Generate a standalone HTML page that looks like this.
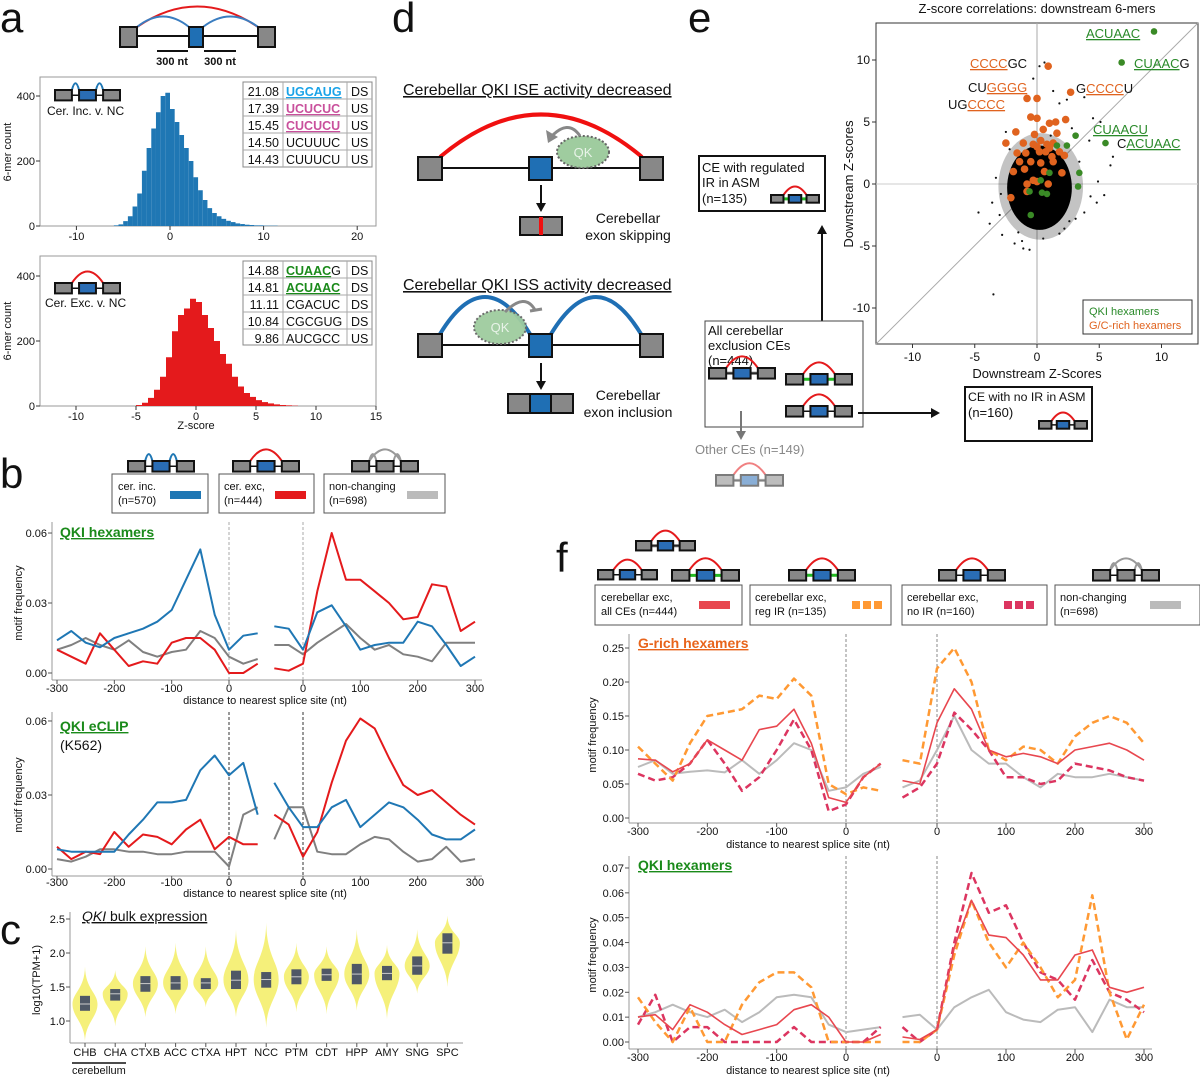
<!DOCTYPE html>
<html><head><meta charset="utf-8">
<style>
html,body{margin:0;padding:0;background:#fff;}
svg{display:block;font-family:"Liberation Sans",Arial,sans-serif;}
text{fill:#111;}
</style></head>
<body>
<svg id="fig" width="1200" height="1078" viewBox="0 0 1200 1078" xmlns="http://www.w3.org/2000/svg">
<text x="0" y="32" font-size="42">a</text>
<text x="0" y="488" font-size="42">b</text>
<text x="0" y="944" font-size="42">c</text>
<text x="392" y="32" font-size="42">d</text>
<text x="688" y="32" font-size="42">e</text>
<text x="556" y="572" font-size="42">f</text>

<g>
<path d="M137,27 Q197,-14 258,27" fill="none" stroke="#e41a1c" stroke-width="2"/>
<path d="M137,27 Q163,6 189,27" fill="none" stroke="#3a7dc0" stroke-width="2"/>
<path d="M203,27 Q230,6 258,27" fill="none" stroke="#3a7dc0" stroke-width="2"/>
<line x1="137" y1="36" x2="258" y2="36" stroke="#111" stroke-width="2"/>
<rect x="120" y="27" width="17" height="20" fill="#888" stroke="#111" stroke-width="2"/>
<rect x="189" y="27" width="14" height="20" fill="#1f6fb4" stroke="#111" stroke-width="2"/>
<rect x="258" y="27" width="17" height="20" fill="#888" stroke="#111" stroke-width="2"/>
<line x1="157" y1="51" x2="188" y2="51" stroke="#111" stroke-width="2"/>
<line x1="204" y1="51" x2="236" y2="51" stroke="#111" stroke-width="2"/>
<text x="172" y="65" font-size="11" font-weight="bold" text-anchor="middle">300 nt</text>
<text x="220" y="65" font-size="11" font-weight="bold" text-anchor="middle">300 nt</text>
</g>

<g font-size="12.5">
<rect x="243" y="82" width="129" height="85" fill="#fff" stroke="#888"/>
<line x1="243" y1="99" x2="372" y2="99" stroke="#aaa"/><line x1="243" y1="116" x2="372" y2="116" stroke="#aaa"/><line x1="243" y1="133" x2="372" y2="133" stroke="#aaa"/><line x1="243" y1="150" x2="372" y2="150" stroke="#aaa"/>
<line x1="283" y1="82" x2="283" y2="167" stroke="#aaa"/><line x1="347" y1="82" x2="347" y2="167" stroke="#aaa"/>
<text x="279" y="96" text-anchor="end">21.08</text><text x="286" y="96" font-weight="bold" text-decoration="underline" style="fill:#1aa3e8">UGCAUG</text><text x="351" y="96">DS</text>
<text x="279" y="113" text-anchor="end">17.39</text><text x="286" y="113" font-weight="bold" text-decoration="underline" style="fill:#c9509c">UCUCUC</text><text x="351" y="113">US</text>
<text x="279" y="130" text-anchor="end">15.45</text><text x="286" y="130" font-weight="bold" text-decoration="underline" style="fill:#c9509c">CUCUCU</text><text x="351" y="130">US</text>
<text x="279" y="147" text-anchor="end">14.50</text><text x="286" y="147">UCUUUC</text><text x="351" y="147">US</text>
<text x="279" y="164" text-anchor="end">14.43</text><text x="286" y="164">CUUUCU</text><text x="351" y="164">US</text>
</g>
<g font-size="12.5">
<rect x="243" y="261" width="129" height="84" fill="#fff" stroke="#888"/>
<line x1="243" y1="278" x2="372" y2="278" stroke="#aaa"/><line x1="243" y1="295" x2="372" y2="295" stroke="#aaa"/><line x1="243" y1="312" x2="372" y2="312" stroke="#aaa"/><line x1="243" y1="329" x2="372" y2="329" stroke="#aaa"/>
<line x1="283" y1="261" x2="283" y2="345" stroke="#aaa"/><line x1="347" y1="261" x2="347" y2="345" stroke="#aaa"/>
<text x="279" y="275" text-anchor="end">14.88</text><text x="286" y="275"><tspan font-weight="bold" text-decoration="underline" style="fill:#1a8a1a">CUAAC</tspan>G</text><text x="351" y="275">DS</text>
<text x="279" y="292" text-anchor="end">14.81</text><text x="286" y="292" font-weight="bold" text-decoration="underline" style="fill:#1a8a1a">ACUAAC</text><text x="351" y="292">DS</text>
<text x="279" y="309" text-anchor="end">11.11</text><text x="286" y="309">CGACUC</text><text x="351" y="309">DS</text>
<text x="279" y="326" text-anchor="end">10.84</text><text x="286" y="326">CGCGUG</text><text x="351" y="326">DS</text>
<text x="279" y="343" text-anchor="end">9.86</text><text x="286" y="343">AUCGCC</text><text x="351" y="343">US</text>
</g>
<text x="47" y="115" font-size="12">Cer. Inc. v. NC</text>
<text x="45" y="307" font-size="12">Cer. Exc. v. NC</text>
<text x="196" y="429" font-size="11" text-anchor="middle">Z-score</text>
<text transform="translate(11,152) rotate(-90)" font-size="11" text-anchor="middle">6-mer count</text>
<text transform="translate(11,331) rotate(-90)" font-size="11" text-anchor="middle">6-mer count</text>

<g font-size="11">
<rect x="112" y="474" width="96" height="39" fill="#fff" stroke="#555"/>
<text x="118" y="490">cer. inc.</text><text x="118" y="504">(n=570)</text>
<rect x="170" y="491" width="31" height="8" fill="#1f77b4"/>
<rect x="219" y="474" width="95" height="39" fill="#fff" stroke="#555"/>
<text x="224" y="490">cer. exc,</text><text x="224" y="504">(n=444)</text>
<rect x="275" y="491" width="31" height="8" fill="#e41a1c"/>
<rect x="324" y="474" width="121" height="39" fill="#fff" stroke="#555"/>
<text x="329" y="490">non-changing</text><text x="329" y="504">(n=698)</text>
<rect x="407" y="491" width="31" height="8" fill="#bbb"/>
</g>
<text x="60" y="537" font-size="14" font-weight="bold" text-decoration="underline" style="fill:#1a8a1a">QKI hexamers</text>
<text x="60" y="731" font-size="14" font-weight="bold" text-decoration="underline" style="fill:#1a8a1a">QKI eCLIP</text>
<text x="60" y="750" font-size="14">(K562)</text>
<text x="265" y="704" font-size="11" text-anchor="middle">distance to nearest splice site (nt)</text>
<text x="265" y="897" font-size="11" text-anchor="middle">distance to nearest splice site (nt)</text>
<text transform="translate(22,603) rotate(-90)" font-size="11" text-anchor="middle">motif frequency</text>
<text transform="translate(22,795) rotate(-90)" font-size="11" text-anchor="middle">motif frequency</text>

<text x="82" y="921" font-size="14" text-decoration="underline"><tspan font-style="italic">QKI</tspan> bulk expression</text>
<text transform="translate(40,980) rotate(-90)" font-size="11" text-anchor="middle">log10(TPM+1)</text>
<line x1="72" y1="1063" x2="126" y2="1063" stroke="#111" stroke-width="1.5"/>
<text x="72" y="1074" font-size="11">cerebellum</text>

<g>
<text x="403" y="95" font-size="16" text-decoration="underline">Cerebellar QKI ISE activity decreased</text>
<path d="M440,157 Q541,72 642,157" fill="none" stroke="#f01010" stroke-width="4"/>
<line x1="442" y1="168" x2="640" y2="168" stroke="#111" stroke-width="2"/>
<rect x="418" y="157" width="24" height="23" fill="#888" stroke="#111" stroke-width="2"/>
<rect x="529" y="157" width="23" height="23" fill="#1f6fb4" stroke="#111" stroke-width="2"/>
<rect x="640" y="157" width="23" height="23" fill="#888" stroke="#111" stroke-width="2"/>
<ellipse cx="583" cy="152" rx="26" ry="16" fill="#9fcc9f" stroke="#666" stroke-width="2" stroke-dasharray="2,2"/>
<text x="583" y="157" font-size="13" text-anchor="middle" style="fill:#e8f3e8">QK</text>
<path d="M580,136 Q568,118 550,138" fill="none" stroke="#888" stroke-width="3"/>
<path d="M546,130 L548,143 L558,137 Z" fill="#888"/>
<line x1="541" y1="185" x2="541" y2="205" stroke="#111" stroke-width="2"/><path d="M536,203 L541,212 L546,203 Z" fill="#111"/>
<rect x="520" y="217" width="42" height="18" fill="#888" stroke="#111" stroke-width="2"/>
<rect x="539" y="217" width="4" height="18" fill="#f01010"/>
<text x="628" y="223" font-size="14" text-anchor="middle">Cerebellar</text>
<text x="628" y="240" font-size="14" text-anchor="middle">exon skipping</text>
</g>
<g>
<text x="403" y="290" font-size="16" text-decoration="underline">Cerebellar QKI ISS activity decreased</text>
<path d="M440,334 Q485,260 530,334" fill="none" stroke="#1f6fb4" stroke-width="4"/>
<path d="M551,334 Q596,260 641,334" fill="none" stroke="#1f6fb4" stroke-width="4"/>
<line x1="442" y1="345" x2="640" y2="345" stroke="#111" stroke-width="2"/>
<ellipse cx="500" cy="327" rx="26" ry="17" fill="#9fcc9f" stroke="#666" stroke-width="2" stroke-dasharray="2,2" opacity="0.95"/>
<text x="500" y="332" font-size="13" text-anchor="middle" style="fill:#e8f3e8">QK</text>
<rect x="418" y="334" width="24" height="23" fill="#888" stroke="#111" stroke-width="2"/>
<rect x="529" y="334" width="23" height="23" fill="#1f6fb4" stroke="#111" stroke-width="2"/>
<rect x="640" y="334" width="23" height="23" fill="#888" stroke="#111" stroke-width="2"/>
<path d="M505,312 Q525,292 535,310" fill="none" stroke="#888" stroke-width="3"/>
<line x1="530" y1="311" x2="542" y2="309" stroke="#888" stroke-width="3"/>
<line x1="541" y1="363" x2="541" y2="383" stroke="#111" stroke-width="2"/><path d="M536,381 L541,390 L546,381 Z" fill="#111"/>
<rect x="508" y="394" width="65" height="19" fill="#888" stroke="#111" stroke-width="2"/>
<rect x="530" y="394" width="21" height="19" fill="#1f6fb4" stroke="#111" stroke-width="2"/>
<text x="628" y="400" font-size="14" text-anchor="middle">Cerebellar</text>
<text x="628" y="417" font-size="14" text-anchor="middle">exon inclusion</text>
</g>

<g font-size="13">
<rect x="699" y="156" width="126" height="55" fill="#fff" stroke="#111" stroke-width="2"/>
<text x="702" y="172">CE with regulated</text><text x="702" y="187">IR in ASM</text><text x="702" y="203">(n=135)</text>
<line x1="822" y1="350" x2="822" y2="233" stroke="#111" stroke-width="2"/><path d="M817,234 L822,225 L827,234 Z" fill="#111"/>
<rect x="705" y="321" width="158" height="106" fill="#fff" stroke="#444"/>
<text x="708" y="335">All cerebellar</text><text x="708" y="350">exclusion CEs</text><text x="708" y="365">(n=444)</text>
<line x1="858" y1="413" x2="932" y2="413" stroke="#111" stroke-width="2"/><path d="M931,408 L940,413 L931,418 Z" fill="#111"/>
<rect x="965" y="387" width="127" height="54" fill="#fff" stroke="#111" stroke-width="2"/>
<text x="968" y="401" font-size="12.3">CE with no IR in ASM</text><text x="968" y="417">(n=160)</text>
<line x1="741" y1="411" x2="741" y2="432" stroke="#777" stroke-width="2"/><path d="M736,431 L741,440 L746,431 Z" fill="#777"/>
<text x="695" y="454" style="fill:#888">Other CEs (n=149)</text>
</g>
<text x="1037" y="13" font-size="13" text-anchor="middle">Z-score correlations: downstream 6-mers</text>
<text transform="translate(853,184) rotate(-90)" font-size="13" text-anchor="middle">Downstream Z-scores</text>
<text x="1037" y="378" font-size="13" text-anchor="middle">Downstream Z-Scores</text>

<g font-size="11">
<rect x="595" y="585" width="147" height="40" fill="#fff" stroke="#555"/>
<text x="601" y="601">cerebellar exc,</text><text x="601" y="615">all CEs (n=444)</text>
<rect x="699" y="601" width="31" height="8" fill="#e8474f"/>
<rect x="750" y="585" width="141" height="40" fill="#fff" stroke="#555"/>
<text x="755" y="601">cerebellar exc,</text><text x="755" y="615">reg IR (n=135)</text>
<rect x="852" y="601" width="8" height="8" fill="#ff9933"/><rect x="863" y="601" width="8" height="8" fill="#ff9933"/><rect x="874" y="601" width="8" height="8" fill="#ff9933"/>
<rect x="902" y="585" width="145" height="40" fill="#fff" stroke="#555"/>
<text x="907" y="601">cerebellar exc,</text><text x="907" y="615">no IR (n=160)</text>
<rect x="1004" y="601" width="8" height="8" fill="#dc3560"/><rect x="1015" y="601" width="8" height="8" fill="#dc3560"/><rect x="1026" y="601" width="8" height="8" fill="#dc3560"/>
<rect x="1055" y="585" width="145" height="40" fill="#fff" stroke="#555"/>
<text x="1060" y="601">non-changing</text><text x="1060" y="615">(n=698)</text>
<rect x="1150" y="601" width="31" height="8" fill="#bbb"/>
</g>
<text x="638" y="648" font-size="14" font-weight="bold" text-decoration="underline" style="fill:#e8641b">G-rich hexamers</text>
<text x="638" y="870" font-size="14" font-weight="bold" text-decoration="underline" style="fill:#1a8a1a">QKI hexamers</text>
<text x="808" y="848" font-size="11" text-anchor="middle">distance to nearest splice site (nt)</text>
<text x="808" y="1074" font-size="11" text-anchor="middle">distance to nearest splice site (nt)</text>
<text transform="translate(596,735) rotate(-90)" font-size="11" text-anchor="middle">motif frequency</text>
<text transform="translate(596,955) rotate(-90)" font-size="11" text-anchor="middle">motif frequency</text>

<g id="dyn"></g>
</svg>
<script>
const hist1Start = -6, hist1Width = 0.5;
const hist1Counts = [2,5,15,30,60,100,170,240,300,350,400,410,360,320,280,240,200,150,110,80,55,40,30,22,16,12,8,6,4,3,2,2,1,1,1,0];
const hist2Start = -5, hist2Width = 0.5;
const hist2Counts = [3,10,25,50,90,150,230,280,300,330,320,280,240,200,160,130,90,60,40,28,18,12,8,5,3,2,1];

const posLeft = [-300,-275,-250,-225,-200,-175,-150,-125,-100,-75,-50,-25,0,25,50];
const posRight = [-50,-25,0,25,50,75,100,125,150,175,200,225,250,275,300];

const b1BlueL = [0.014,0.018,0.013,0.011,0.015,0.017,0.019,0.022,0.027,0.040,0.053,0.025,0.010,0.016,0.017];
const b1RedL  = [0.010,0.007,0.004,0.017,0.010,0.003,0.005,0.004,0.013,0.015,0.015,0.010,0.000,0.000,0.004];
const b1GrayL = [0.010,0.012,0.015,0.012,0.010,0.014,0.009,0.007,0.009,0.010,0.018,0.015,0.007,0.004,0.006];
const b1BlueR = [0.020,0.019,0.010,0.026,0.029,0.020,0.010,0.012,0.013,0.013,0.022,0.020,0.012,0.003,0.007];
const b1RedR  = [0.002,0.001,0.004,0.035,0.060,0.040,0.040,0.035,0.030,0.023,0.024,0.038,0.037,0.018,0.022];
const b1GrayR = [0.012,0.012,0.008,0.013,0.017,0.021,0.015,0.010,0.012,0.008,0.007,0.005,0.013,0.013,0.013];

const b2BlueL = [0.008,0.007,0.007,0.007,0.007,0.014,0.020,0.027,0.027,0.028,0.040,0.046,0.038,0.043,0.022];
const b2RedL  = [0.009,0.004,0.007,0.006,0.015,0.009,0.014,0.013,0.010,0.016,0.020,0.008,0.013,0.010,0.010];
const b2GrayL = [0.004,0.003,0.005,0.008,0.008,0.007,0.007,0.006,0.006,0.007,0.007,0.007,0.001,0.022,0.025];
const b2BlueR = [0.035,0.025,0.017,0.017,0.025,0.028,0.017,0.022,0.027,0.025,0.020,0.014,0.012,0.012,0.016];
const b2RedR  = [0.022,0.018,0.005,0.015,0.035,0.052,0.061,0.057,0.045,0.034,0.030,0.032,0.027,0.022,0.018];
const b2GrayR = [0.012,0.025,0.025,0.007,0.006,0.006,0.010,0.013,0.012,0.007,0.003,0.004,0.009,0.003,0.004];

const f1RedL    = [0.087,0.085,0.068,0.080,0.115,0.100,0.085,0.130,0.135,0.160,0.110,0.030,0.023,0.060,0.080];
const f1OrangeL = [0.105,0.080,0.055,0.110,0.150,0.155,0.160,0.180,0.175,0.205,0.180,0.050,0.035,0.045,0.040];
const f1CrimsonL= [0.065,0.055,0.060,0.080,0.115,0.080,0.040,0.060,0.100,0.145,0.100,0.010,0.020,0.060,0.080];
const f1GrayL   = [0.075,0.085,0.065,0.068,0.070,0.067,0.085,0.065,0.085,0.110,0.100,0.040,0.045,0.065,0.075];
const f1RedR    = [0.055,0.050,0.140,0.190,0.160,0.100,0.090,0.095,0.090,0.080,0.100,0.105,0.110,0.100,0.085];
const f1OrangeR = [0.085,0.080,0.220,0.250,0.200,0.100,0.085,0.105,0.100,0.080,0.120,0.140,0.150,0.140,0.110];
const f1CrimsonR= [0.030,0.045,0.080,0.155,0.130,0.100,0.060,0.060,0.050,0.055,0.080,0.075,0.070,0.060,0.055];
const f1GrayR   = [0.045,0.055,0.100,0.150,0.100,0.080,0.080,0.060,0.045,0.065,0.060,0.060,0.065,0.060,0.055];

const f2RedL    = [0.010,0.011,0.005,0.015,0.012,0.007,0.003,0.005,0.007,0.013,0.015,0.010,0.000,0.000,0.003];
const f2OrangeL = [0.018,0.008,0.000,0.014,0.000,0.000,0.015,0.024,0.028,0.028,0.022,0.000,0.000,0.000,0.000];
const f2CrimsonL= [0.007,0.019,0.000,0.006,0.006,0.000,0.000,0.000,0.000,0.006,0.000,0.000,0.000,0.000,0.006];
const f2GrayL   = [0.010,0.012,0.015,0.012,0.010,0.013,0.008,0.012,0.018,0.019,0.018,0.007,0.004,0.005,0.006];
const f2RedR    = [0.002,0.001,0.005,0.038,0.057,0.043,0.042,0.035,0.025,0.025,0.035,0.037,0.022,0.020,0.022];
const f2OrangeR = [0.000,0.000,0.005,0.035,0.057,0.040,0.030,0.040,0.030,0.018,0.025,0.059,0.020,0.001,0.015];
const f2CrimsonR= [0.006,0.000,0.005,0.040,0.068,0.052,0.055,0.040,0.028,0.025,0.017,0.033,0.020,0.017,0.012];
const f2GrayR   = [0.010,0.011,0.005,0.014,0.018,0.021,0.012,0.009,0.008,0.013,0.014,0.004,0.017,0.014,0.014];

const vCats = ["CHB","CHA","CTXB","ACC","CTXA","HPT","NCC","PTM","CDT","HPP","AMY","SNG","SPC"];
const vMin  = [0.70,0.92,1.05,1.10,1.20,1.05,0.90,1.13,1.10,1.15,1.02,1.40,1.50];
const vMax  = [1.80,1.75,2.10,2.15,2.10,2.35,2.45,2.15,2.10,2.35,2.12,2.35,2.55];
const vQ1   = [1.15,1.30,1.43,1.46,1.47,1.47,1.49,1.54,1.59,1.54,1.60,1.68,1.99];
const vQ3   = [1.37,1.47,1.66,1.66,1.63,1.74,1.72,1.76,1.77,1.84,1.81,1.95,2.29];
const vMed  = [1.25,1.40,1.55,1.56,1.56,1.60,1.61,1.65,1.68,1.69,1.70,1.81,2.15];
const vTicks = [1.0,1.5,2.0,2.5];

const scX_orange = [0.9,2.7,-0.8,0,-0.5,0,1,1.5,2.3,-1.7,1.6,-2.5,-1.1,-0.3,0.3,0.8,1.3,-1.6,-0.9,0.2,0.7,1.2,2.2,-1.4,-0.5,0.3,1.3,-1.9,-1.0,0.6,-0.8,0,0.9,-2.1,-0.8,-0.3,1.8,0.5,-0.2,1.0,2.0,0];
const scY_orange = [9.5,7.4,6.9,6.9,5.4,5.3,4.9,5,5.2,4.2,4.1,3.3,3.3,3.2,3.5,3.2,3.3,2.5,2.5,2.6,2.6,2.2,2.3,1.8,1.8,1.7,1.8,1.0,1.2,1.0,0,0.2,0,-1.1,-0.6,0.3,2.6,4.4,4.0,2.9,0.9,3.0];
const scX_green = [9.4,6.8,3.1,5.5,3.4,3.3,0.4,0.8,-0.5,-0.6,2.4,1.6,1.0,0.3];
const scY_green = [12.3,9.8,3.9,3.3,0.9,-0.2,-0.7,-0.8,-2.5,-0.6,3.1,3.1,0.9,0.3];
const scX_black = [-3.5,0.6,0.2,-0.3,1.8,1.3,2.4,3.8,4.5,5.1,6.1,5.9,4.9,5.4,4.8,-4.7,-3.8,-2.8,-1.8,-1.1,-0.6,1.8,2.6,-3,3.8,-2.5,4.2,2.8,-3.3,-3.6,4.3,3.1,-1.5,0.5,-2.2,2.2,-1.2,1.1,3.4,-2.9];
const scY_black = [-8.9,9.8,9.5,8.5,6.5,7.5,6.8,7.0,5.3,5,2.2,1.5,0.2,-0.9,-1.5,-2.3,-3.2,-4.1,-4.8,-5.2,-5.3,-4,-3,-2.5,-2.3,4.2,3.5,4.5,0.5,-1.5,-1,-2.8,-3.9,-4.4,2.8,-3.6,-4.6,3.9,1.8,-0.8];
const scTicks = [-10,-5,0,5,10];

const NS = "http://www.w3.org/2000/svg";
const root = document.getElementById('dyn');
function mk(tag, attrs, parent){
  const e = document.createElementNS(NS, tag);
  for (const k in attrs) e.setAttribute(k, attrs[k]);
  (parent||root).appendChild(e);
  return e;
}
function txt(x,y,s,size,anchor,parent){
  const t = mk('text',{x:x,y:y,'font-size':size,'text-anchor':anchor||'start'},parent);
  t.textContent = s;
  return t;
}

function diagram(x,y,w,type,name,opacity){
  const g = mk('g',{opacity:opacity||1});
  
  
  const bw = w*0.26, h = w*0.16, top = y;
  const x1 = x, x2 = x + w/2 - bw/2, x3 = x + w - bw;
  const mid = top + h/2;
  const lineCol = type==='excIR' ? '#22bb22' : '#111';
  mk('line',{x1:x1+bw,y1:mid,x2:x3,y2:mid,stroke:lineCol,'stroke-width':type==='excIR'?3:1.5},g);
  if (type==='excBoth'){ mk('line',{x1:x1+bw,y1:mid,x2:x3,y2:mid,stroke:'#666','stroke-width':3},g); mk('line',{x1:x1+bw,y1:mid,x2:x3,y2:mid,stroke:'#111','stroke-width':1},g); }
  const midFill = type==='nc' ? '#888' : '#2a6db5';
  if (type==='inc'){
    mk('path',{d:`M${x1+bw},${top} Q${(x1+bw+x2)/2},${top-h*1.3} ${x2},${top}`,fill:'none',stroke:'#1f77b4','stroke-width':2},g);
    mk('path',{d:`M${x2+bw},${top} Q${(x2+bw+x3)/2},${top-h*1.3} ${x3},${top}`,fill:'none',stroke:'#1f77b4','stroke-width':2},g);
  } else if (type==='nc'){
    mk('path',{d:`M${x1+bw},${top} Q${x+w/2},${top-h*2.2} ${x3},${top}`,fill:'none',stroke:'#999','stroke-width':2},g);
    mk('path',{d:`M${x1+bw},${top} Q${(x1+bw+x2)/2},${top-h*1.3} ${x2},${top}`,fill:'none',stroke:'#999','stroke-width':2},g);
    mk('path',{d:`M${x2+bw},${top} Q${(x2+bw+x3)/2},${top-h*1.3} ${x3},${top}`,fill:'none',stroke:'#999','stroke-width':2},g);
  } else {
    mk('path',{d:`M${x1+bw},${top} Q${x+w/2},${top-h*2.2} ${x3},${top}`,fill:'none',stroke:'#e41a1c','stroke-width':2},g);
  }
  mk('rect',{x:x1,y:top,width:bw,height:h,fill:'#888',stroke:'#111','stroke-width':2},g);
  mk('rect',{x:x2,y:top,width:bw,height:h,fill:midFill,stroke:'#111','stroke-width':2},g);
  mk('rect',{x:x3,y:top,width:bw,height:h,fill:'#888',stroke:'#111','stroke-width':2},g);
  return g;
}
diagram(55,90,65,'inc','inset-diagram-inc');
diagram(55,283,65,'exc','inset-diagram-exc');
diagram(128,461,66,'inc','legend-diagram-inc');
diagram(233,461,66,'exc','legend-diagram-exc');
diagram(352,461,66,'nc','legend-diagram-nc');
diagram(771,195,48,'excIR','e-diagram-ir');
diagram(709,368,66,'excBoth','e-diagram-all');
diagram(786,374,66,'excIR','e-diagram-ir2');
diagram(786,406,66,'exc','e-diagram-noir');
diagram(1039,421,48,'exc','e-diagram-noir2');
diagram(716,475,67,'excBoth','e-diagram-other',0.55);
diagram(636,541,59,'excBoth','f-diagram-all-top');
diagram(598,570,59,'exc','f-diagram-all-left');
diagram(672,570,67,'excIR','f-diagram-all-right');
diagram(789,570,66,'excIR','f-diagram-regir');
diagram(939,570,66,'exc','f-diagram-noir');
diagram(1093,570,66,'nc','f-diagram-nc');

function histogram(counts,start,width,xs,ys,color,name,box,xticks,yticks){
  const g = mk('g',{});
  
  
  mk('rect',{x:box[0],y:box[1],width:box[2]-box[0],height:box[3]-box[1],fill:'none',stroke:'#999'},g);
  counts.forEach((c,i)=>{
    const a = start + i*width;
    const r = mk('rect',{x:xs(a),y:ys(c),width:Math.max(0,xs(a+width)-xs(a)),height:ys(0)-ys(c),fill:color},g);
    
    
  });
  xticks.forEach(v=>{ mk('line',{x1:xs(v),y1:box[3],x2:xs(v),y2:box[3]+4,stroke:'#333'},g); txt(xs(v),box[3]+14,String(v),11,'middle',g); });
  yticks.forEach(v=>{ mk('line',{x1:box[0]-4,y1:ys(v),x2:box[0],y2:ys(v),stroke:'#333'},g); txt(box[0]-5,ys(v)+4,String(v),11,'end',g); });
}
histogram(hist1Counts,hist1Start,hist1Width,v=>170+v*9.36,v=>226-v*0.325,'#1f77b4','histogram-inclusion',[40,77,376,226],[-10,0,10,20],[0,200,400]);
histogram(hist2Counts,hist2Start,hist2Width,v=>196+v*12,v=>406-v*0.325,'#e41a1c','histogram-exclusion',[40,256,376,406],[-10,-5,0,5,10,15],[0,200,400]);

function series(xsArr, vals, xf, yf, color, dash, w, name, parent){
  const pts = vals.map((v,i)=>xf(xsArr[i]).toFixed(1)+','+yf(v).toFixed(1)).join(' ');
  const p = mk('polyline',{points:pts,fill:'none',stroke:color,'stroke-width':w,'stroke-dasharray':dash||'none','stroke-linejoin':'round'},parent);
  
  
}
function axesPanel(name, xL, xR, yf, axisX, axisTop, axisBottom, axisRight, yticks, ydec, xtickY, vdash){
  const g = mk('g',{});
  
  
  mk('line',{x1:axisX,y1:axisTop,x2:axisX,y2:axisBottom,stroke:'#999'},g);
  mk('line',{x1:axisX,y1:axisBottom,x2:axisRight,y2:axisBottom,stroke:'#999'},g);
  yticks.forEach(v=>{ mk('line',{x1:axisX-4,y1:yf(v),x2:axisX,y2:yf(v),stroke:'#555'},g); txt(axisX-5,yf(v)+4,v.toFixed(ydec),11,'end',g); });
  [-300,-200,-100,0].forEach(v=>{ mk('line',{x1:xL(v),y1:axisBottom,x2:xL(v),y2:axisBottom+4,stroke:'#555'},g); txt(xL(v),xtickY,String(v),11,'middle',g); });
  [0,100,200,300].forEach(v=>{ mk('line',{x1:xR(v),y1:axisBottom,x2:xR(v),y2:axisBottom+4,stroke:'#555'},g); txt(xR(v),xtickY,String(v),11,'middle',g); });
  mk('line',{x1:xL(0),y1:axisTop,x2:xL(0),y2:axisBottom,stroke:vdash,'stroke-dasharray':'3,2'},g);
  mk('line',{x1:xR(0),y1:axisTop,x2:xR(0),y2:axisBottom,stroke:vdash,'stroke-dasharray':'3,2'},g);
  return g;
}
const bxL = v=>229+v*0.5733, bxR = v=>303+v*0.5733;
const b1y = v=>673-v*2333, b2y = v=>869-v*2467;
const g1 = axesPanel('chart-b1', bxL, bxR, b1y, 52, 522, 680, 482, [0,0.03,0.06], 2, 692, '#aaa');
[[b1GrayL,b1GrayR,'#808080','gray'],[b1RedL,b1RedR,'#e41a1c','red'],[b1BlueL,b1BlueR,'#1f77b4','blue']].forEach(s=>{
  series(posLeft,s[0],bxL,b1y,s[2],null,2,'b1-line-'+s[3]+'-upstream',g1);
  series(posRight,s[1],bxR,b1y,s[2],null,2,'b1-line-'+s[3]+'-downstream',g1);
});
const g2 = axesPanel('chart-b2', bxL, bxR, b2y, 52, 712, 876, 482, [0,0.03,0.06], 2, 886, '#333');
[[b2GrayL,b2GrayR,'#808080','gray'],[b2RedL,b2RedR,'#e41a1c','red'],[b2BlueL,b2BlueR,'#1f77b4','blue']].forEach(s=>{
  series(posLeft,s[0],bxL,b2y,s[2],null,2,'b2-line-'+s[3]+'-upstream',g2);
  series(posRight,s[1],bxR,b2y,s[2],null,2,'b2-line-'+s[3]+'-downstream',g2);
});
const fxL = v=>846+v*0.6933, fxR = v=>937+v*0.69;
const f1y = v=>818-v*680, f2y = v=>1042-v*2486;
const gf1 = axesPanel('chart-f1', fxL, fxR, f1y, 629, 634, 823, 1152, [0,0.05,0.10,0.15,0.20,0.25], 2, 835, '#888');
const gf2 = axesPanel('chart-f2', fxL, fxR, f2y, 629, 856, 1049, 1152, [0,0.01,0.02,0.03,0.04,0.05,0.06,0.07], 2, 1061, '#888');
[[f1GrayL,f1GrayR,f2GrayL,f2GrayR,'#bbbbbb',null,2,'gray'],
 [f1CrimsonL,f1CrimsonR,f2CrimsonL,f2CrimsonR,'#dc3560','7,4',2.5,'crimson'],
 [f1OrangeL,f1OrangeR,f2OrangeL,f2OrangeR,'#ff9933','7,4',2.5,'orange'],
 [f1RedL,f1RedR,f2RedL,f2RedR,'#e8474f',null,1.6,'red']].forEach(s=>{
  series(posLeft,s[0],fxL,f1y,s[4],s[5],s[6],'f1-line-'+s[7]+'-upstream',gf1);
  series(posRight,s[1],fxR,f1y,s[4],s[5],s[6],'f1-line-'+s[7]+'-downstream',gf1);
  series(posLeft,s[2],fxL,f2y,s[4],s[5],s[6],'f2-line-'+s[7]+'-upstream',gf2);
  series(posRight,s[3],fxR,f2y,s[4],s[5],s[6],'f2-line-'+s[7]+'-downstream',gf2);
});

const vx = i=>85+i*30.2, vy = v=>987-(v-1.5)*68;
const gv = mk('g',{});


mk('line',{x1:70,y1:912,x2:70,y2:1043,stroke:'#999'},gv);
mk('line',{x1:70,y1:1043,x2:463,y2:1043,stroke:'#999'},gv);
vTicks.forEach(v=>{ mk('line',{x1:66,y1:vy(v),x2:70,y2:vy(v),stroke:'#555'},gv); txt(65,vy(v)+4,v.toFixed(1),11,'end',gv); });
vCats.forEach((c,i)=>{
  const cx = vx(i), yt = vy(vMax[i]), yb = vy(vMin[i]), ym = vy(vMed[i]), hw = 12.5;
  const d = `M${cx},${yt} C${cx+0.5},${yt+0.6*(ym-yt)} ${cx+hw},${ym-0.3*(ym-yt)} ${cx+hw},${ym} C${cx+hw},${ym+0.35*(yb-ym)} ${cx+0.5},${yb-0.5*(yb-ym)} ${cx},${yb} C${cx-0.5},${yb-0.5*(yb-ym)} ${cx-hw},${ym+0.35*(yb-ym)} ${cx-hw},${ym} C${cx-hw},${ym-0.3*(ym-yt)} ${cx-0.5},${yt+0.6*(ym-yt)} ${cx},${yt} Z`;
  const v = mk('path',{d:d,fill:'#f5f07a'},gv);
  
  
  const b = mk('rect',{x:cx-5,y:vy(vQ3[i]),width:10,height:vy(vQ1[i])-vy(vQ3[i]),fill:'#4f5866'},gv);
  
  
  mk('line',{x1:cx-5,y1:ym,x2:cx+5,y2:ym,stroke:'#ccc','stroke-width':1},gv);
  mk('line',{x1:cx,y1:1043,x2:cx,y2:1047,stroke:'#555'},gv);
  txt(cx,1056,c,11,'middle',gv);
});

const sx = v=>1037+v*12.45, sy = v=>184-v*12.4;
const gs = mk('g',{});


mk('rect',{x:876,y:23,width:322,height:321,fill:'none',stroke:'#333'},gs);
mk('line',{x1:sx(0),y1:23,x2:sx(0),y2:344,stroke:'#aaa'},gs);
mk('line',{x1:876,y1:sy(0),x2:1198,y2:sy(0),stroke:'#ccc'},gs);
mk('line',{x1:876,y1:344,x2:1198,y2:23,stroke:'#aaa'},gs);
scTicks.forEach(v=>{
  mk('line',{x1:sx(v),y1:344,x2:sx(v),y2:348,stroke:'#333'},gs); txt(sx(v),361,String(v),12,'middle',gs);
  mk('line',{x1:872,y1:sy(v),x2:876,y2:sy(v),stroke:'#333'},gs); txt(870,sy(v)+4,String(v),12,'end',gs);
});
const cloud = mk('ellipse',{cx:sx(0.3),cy:sy(-0.2),rx:3.4*12.45,ry:4.3*12.4,fill:'#111',opacity:0.25},gs);


const cloud2 = mk('ellipse',{cx:sx(0.2),cy:sy(-0.3),rx:2.6*12.45,ry:3.4*12.4,fill:'#000'},gs);


scX_black.forEach((x,i)=>{ const c = mk('circle',{cx:sx(x),cy:sy(scY_black[i]),r:1.1,fill:'#111'},gs);
  
   });
scX_orange.forEach((x,i)=>{ const c = mk('circle',{cx:sx(x),cy:sy(scY_orange[i]),r:3.8,fill:'#e0631f'},gs);
  
   });
scX_green.forEach((x,i)=>{ const c = mk('circle',{cx:sx(x),cy:sy(scY_green[i]),r:3.3,fill:'#3a8a26'},gs);
  
   });
function lbl(x,y,parts){
  const t = mk('text',{x:x,y:y,'font-size':13},gs);
  
  
  parts.forEach(p=>{ const s = mk('tspan',{style:'fill:'+p[1]},t); if(p[2]) s.setAttribute('text-decoration','underline'); s.textContent = p[0]; });
}
const G='#2a8a2a', O='#e0631f', K='#111';
lbl(1086,38,[['ACUAAC',G,1]]);
lbl(1134,68,[['CUAAC',G,1],['G',K]]);
lbl(970,68,[['CCCC',O,1],['GC',K]]);
lbl(968,92,[['CU',K],['GGGG',O,1]]);
lbl(1076,93,[['G',K],['CCCC',O,1],['U',K]]);
lbl(948,109,[['UG',K],['CCCC',O,1]]);
lbl(1093,134,[['CUAACU',G,1]]);
lbl(1117,148,[['C',K],['ACUAAC',G,1]]);
const lg = mk('g',{},gs);


mk('rect',{x:1083,y:300,width:109,height:34,fill:'#fff',stroke:'#333'},lg);
const l1 = txt(1089,315,'QKI hexamers',11,'start',lg); l1.setAttribute('style','fill:#2a8a2a');
const l2 = txt(1089,329,'G/C-rich hexamers',11,'start',lg); l2.setAttribute('style','fill:#e0631f');
</script>
</body></html>
